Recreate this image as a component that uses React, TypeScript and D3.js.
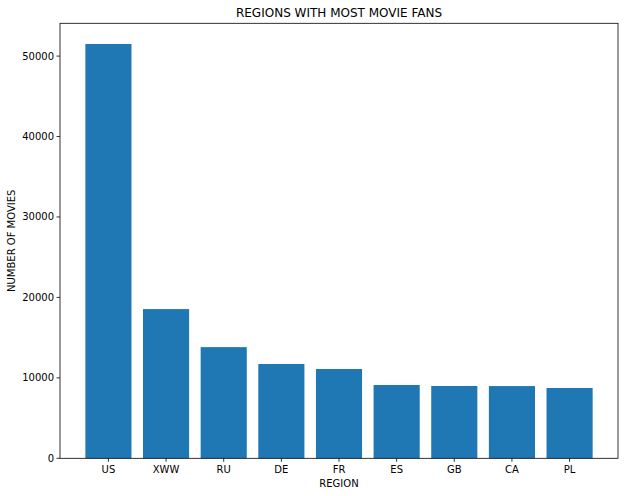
import React from "react";
import * as d3 from "d3";

const regions = ["US", "XWW", "RU", "DE", "FR", "ES", "GB", "CA", "PL"];
const movieCounts = [51500, 18550, 13820, 11720, 11100, 9110, 8990, 8980, 8740];
const yTicks = [0, 10000, 20000, 30000, 40000, 50000];

const width = 625;
const height = 496;
const margin = { top: 23.3, right: 7, bottom: 37.7, left: 60 };
const barColor = "#1f77b4";
const font = "'DejaVu Sans', sans-serif";

const App: React.FC = () => {
  const innerW = width - margin.left - margin.right;
  const innerH = height - margin.top - margin.bottom;
  const barWidth = 0.8;
  const n = regions.length;
  const pad = (n - 1 + barWidth) * 0.05;
  const xScale = d3
    .scaleLinear()
    .domain([-barWidth / 2 - pad, n - 1 + barWidth / 2 + pad])
    .range([0, innerW]);
  const yMax = (d3.max(movieCounts) as number) * 1.05;
  const yScale = d3.scaleLinear().domain([0, yMax]).range([innerH, 0]);

  return (
    <svg
      width={width}
      height={height}
      style={{ position: "absolute", left: 0, top: 0, background: "#fff" }}
      fontFamily={font}
    >
      <rect width={width} height={height} fill="#fff" />
      <g transform={`translate(${margin.left},${margin.top})`}>
        {movieCounts.map((v, i) => (
          <rect
            key={regions[i]}
            x={xScale(i - barWidth / 2)}
            y={yScale(v)}
            width={xScale(i + barWidth / 2) - xScale(i - barWidth / 2)}
            height={innerH - yScale(v)}
            fill={barColor}
          />
        ))}
        <rect
          width={innerW}
          height={innerH}
          fill="none"
          stroke="#000"
          strokeWidth={0.8}
        />
        {yTicks.map(t => (
          <g key={t} transform={`translate(0,${yScale(t)})`}>
            <line x1={-3.5} x2={0} stroke="#000" strokeWidth={0.8} />
            <text
              x={-6}
              dy="0.35em"
              textAnchor="end"
              fontSize={10}
              fill="#000"
            >
              {t}
            </text>
          </g>
        ))}
        {regions.map((r, i) => (
          <g key={r} transform={`translate(${xScale(i)},${innerH})`}>
            <line y1={0} y2={3.5} stroke="#000" strokeWidth={0.8} />
            <text y={15} textAnchor="middle" fontSize={10} fill="#000">
              {r}
            </text>
          </g>
        ))}
        <text
          x={innerW / 2}
          y={innerH + 29}
          textAnchor="middle"
          fontSize={10}
          fill="#000"
        >
          REGION
        </text>
        <text
          transform={`translate(${-45},${innerH / 2}) rotate(-90)`}
          textAnchor="middle"
          fontSize={10}
          fill="#000"
        >
          NUMBER OF MOVIES
        </text>
        <text
          x={innerW / 2}
          y={-6.5}
          textAnchor="middle"
          fontSize={12}
          fill="#000"
        >
          REGIONS WITH MOST MOVIE FANS
        </text>
      </g>
    </svg>
  );
};

export default App;
